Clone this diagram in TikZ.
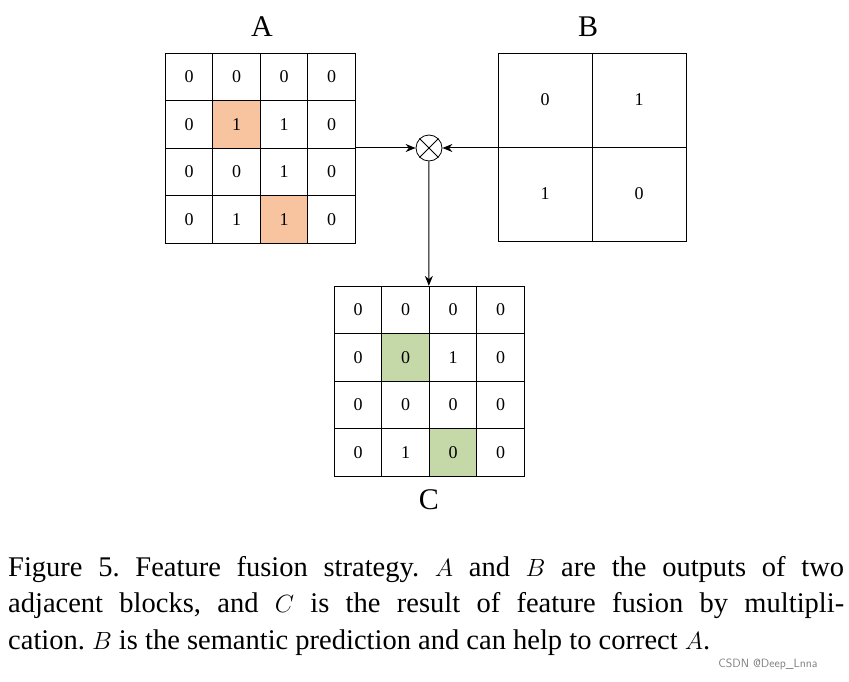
\documentclass[tikz,border=0pt]{standalone}
\usepackage{fontspec}
\setmainfont{Liberation Serif}
\usetikzlibrary{arrows.meta}
\definecolor{org}{HTML}{F8C4A0}
\definecolor{grn}{HTML}{C5D9A8}
\begin{document}
\frenchspacing
\begin{tikzpicture}[x=1pt,y=-1pt,
  cell/.style={draw,line width=0.8pt,minimum size=47.5pt,inner sep=0pt,font=\fontsize{18}{18}\selectfont},
  big/.style={draw,line width=0.8pt,minimum size=94pt,inner sep=0pt,font=\fontsize{18}{18}\selectfont},
  lab/.style={font=\fontsize{30}{30}\selectfont},
  arr/.style={-{Stealth[length=10pt,width=8pt]},line width=1pt}]
\useasboundingbox (0,0) rectangle (849,682);
% A
\foreach \r/\row in {0/{0,0,0,0},1/{0,1,1,0},2/{0,0,1,0},3/{0,1,1,0}}{
  \foreach \v [count=\c from 0] in \row {
    \node[cell] (a\r\c) at (189+47.5*\c,77+47.5*\r) {\v};}}
\node[cell,fill=org] at (a11) {1};
\node[cell,fill=org] at (a32) {1};
% B
\node[big] (b00) at (545,100) {0};
\node[big] (b01) at (639,100) {1};
\node[big] (b10) at (545,194) {1};
\node[big] (b11) at (639,194) {0};
% C
\foreach \r/\row in {0/{0,0,0,0},1/{0,0,1,0},2/{0,0,0,0},3/{0,1,0,0}}{
  \foreach \v [count=\c from 0] in \row {
    \node[cell] (c\r\c) at (358+47.5*\c,310+47.5*\r) {\v};}}
\node[cell,fill=grn] at (c11) {0};
\node[cell,fill=grn] at (c32) {0};
\node[lab] (la) at (262,27) {A};
\node[lab] (lb) at (588,27) {B};
\node[lab] (lc) at (429,500) {C};
% operator
\node[draw,circle,line width=0.8pt,minimum size=26pt,inner sep=0pt] (op) at (429,148) {};
\draw[line width=0.8pt] (op.north west)--(op.south east) (op.north east)--(op.south west);
\coordinate (ae) at (355,148);
\coordinate (be) at (498,148);
\draw[arr] (ae) -- (op);
\draw[arr] (be) -- (op);
\draw[arr] (op) -- (c02.north west);
\node[anchor=north west,inner sep=0pt,text width=836pt,align=justify,font=\fontsize{28.5}{36.5}\selectfont] (cap) at (8,556)
{Figure 5. Feature fusion strategy. \(A\) and \(B\) are the outputs of two\linebreak adjacent blocks, and \(C\) is the result of feature fusion by multipli-\linebreak cation. \(B\) is the semantic prediction and can help to correct \(A\).};
\node[font=\fontsize{12}{12}\sffamily\selectfont,text=gray] (wm) at (768,664) {CSDN @Deep\_Lnna};
\end{tikzpicture}
\end{document}
